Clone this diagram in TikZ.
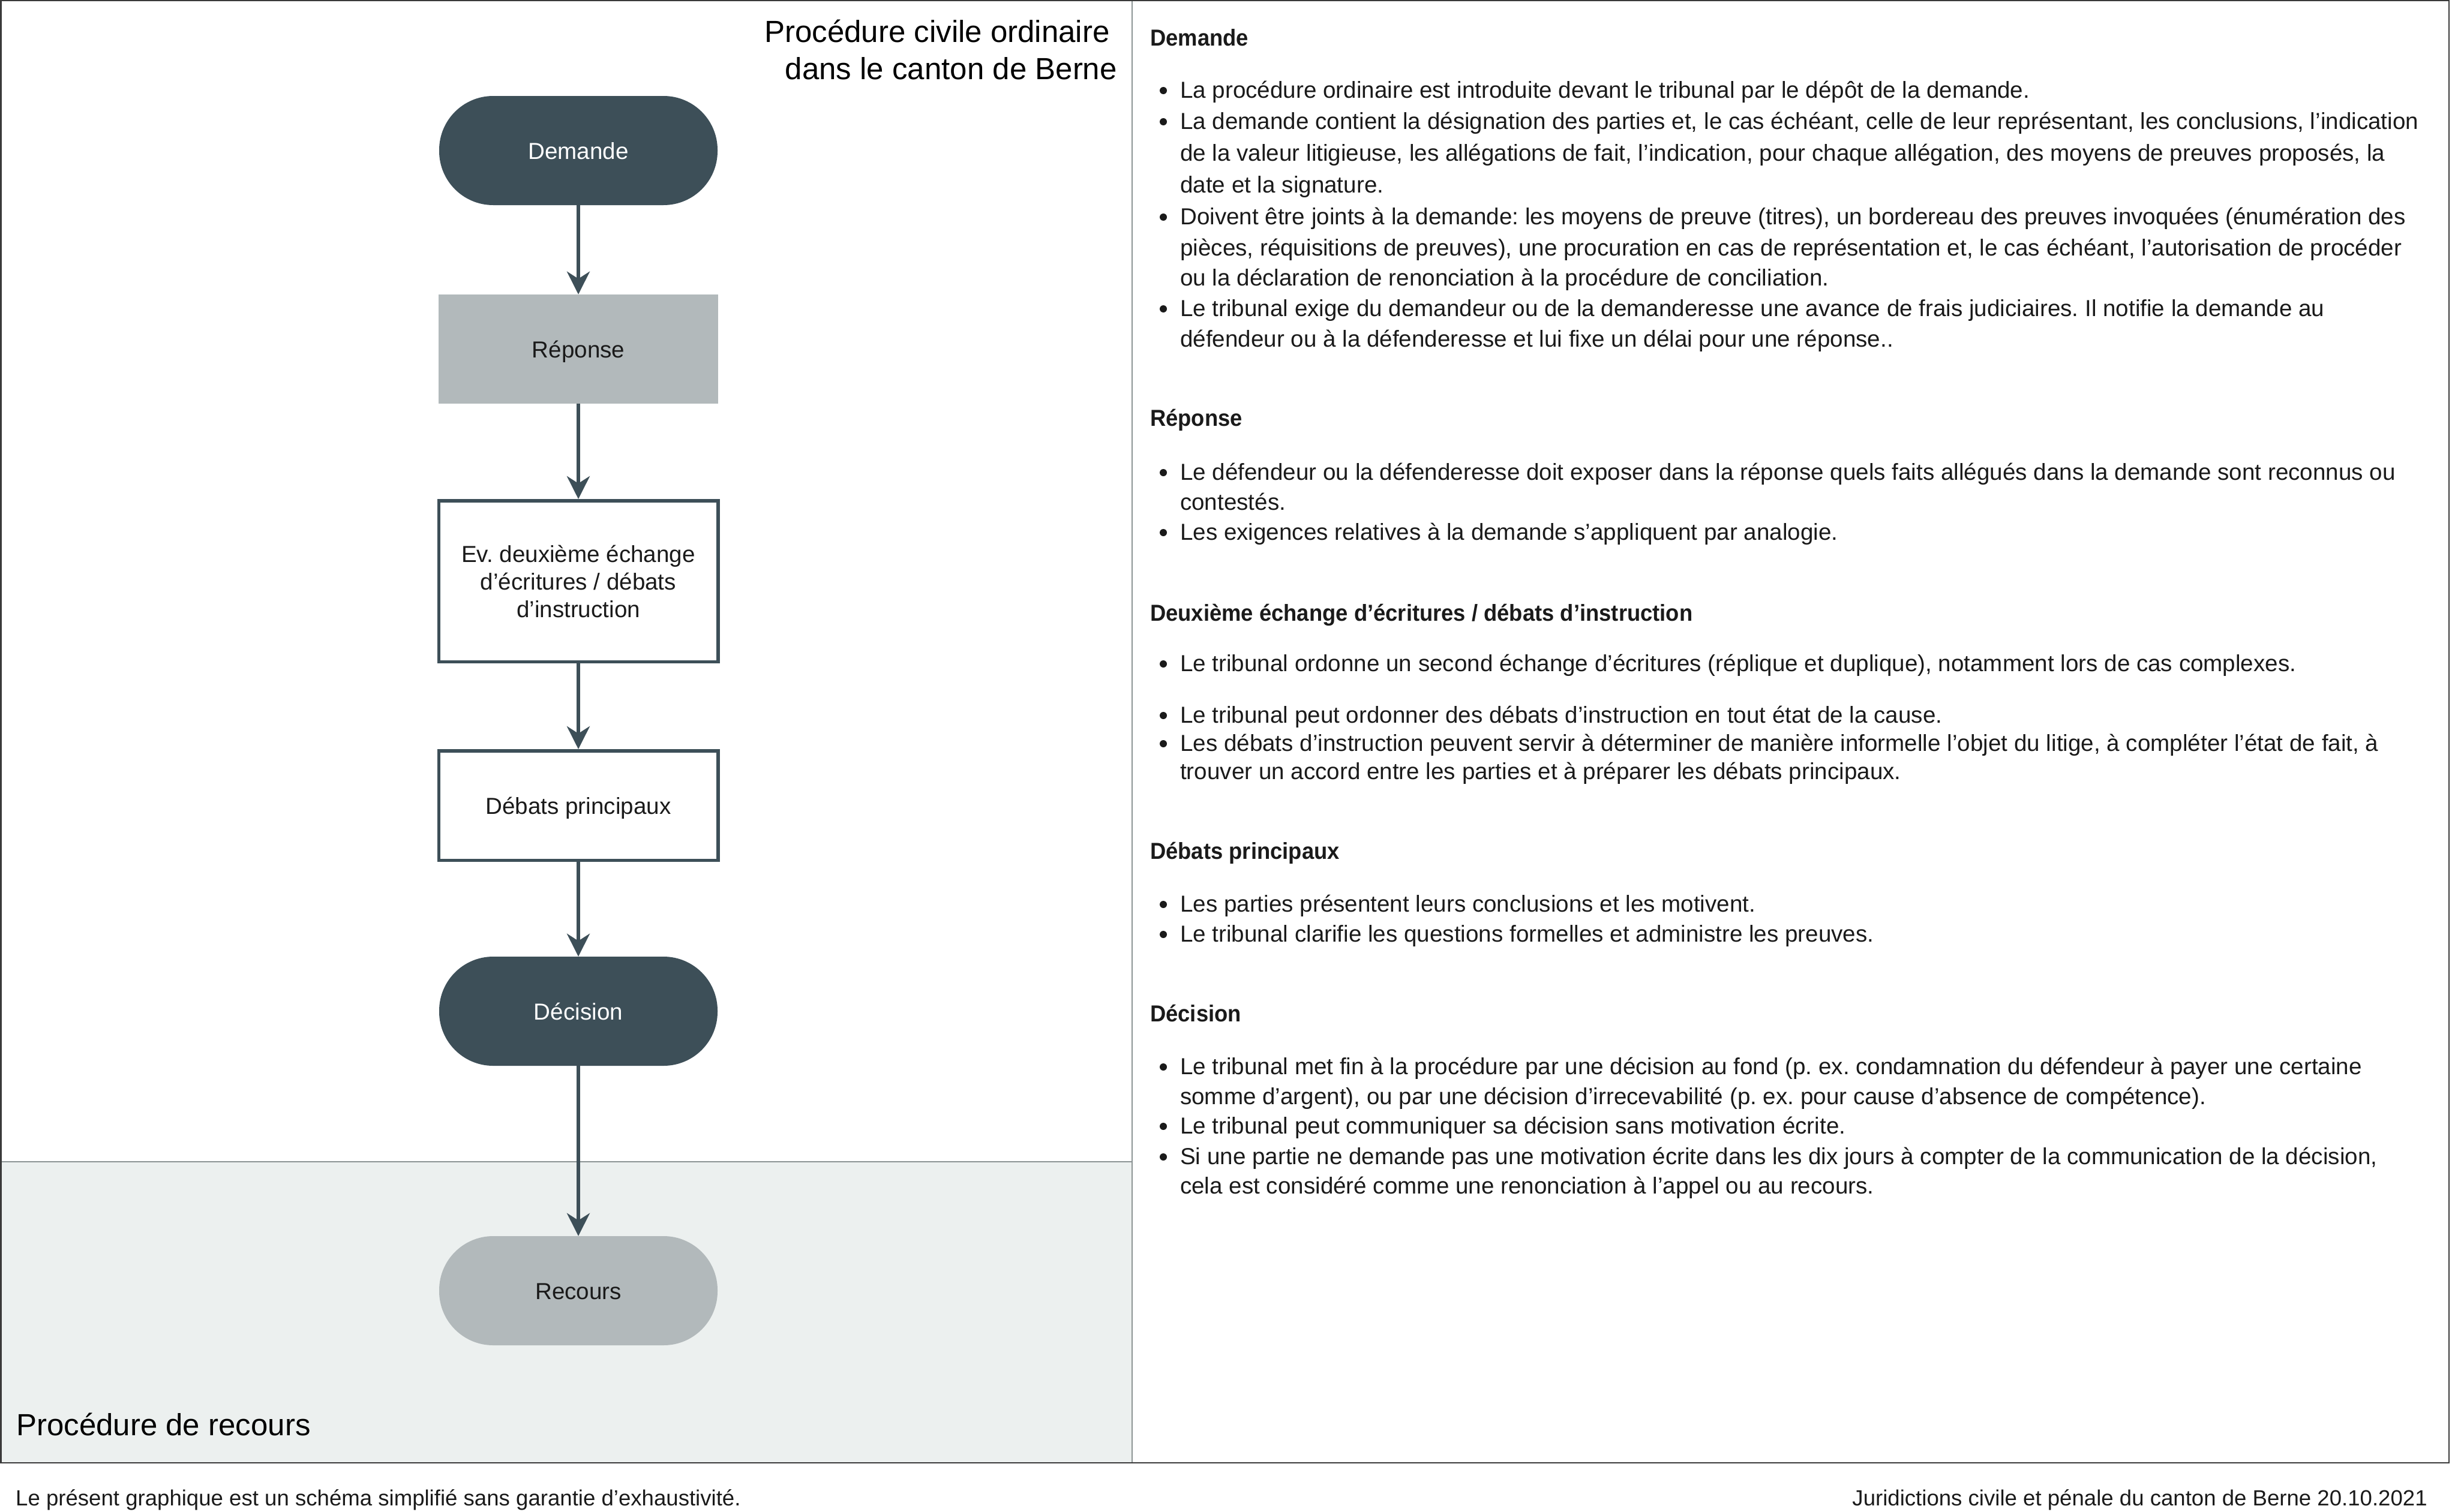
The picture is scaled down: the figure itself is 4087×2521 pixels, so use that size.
\documentclass[tikz,border=0pt]{standalone}
\usepackage{fontspec}
\setmainfont{Liberation Sans}
\newfontfamily\hdfont{Liberation Sans}[FakeStretch=0.943]
\usetikzlibrary{arrows.meta}
\definecolor{slate}{HTML}{3D4F58}
\definecolor{lgray}{HTML}{B2B9BB}
\definecolor{panel}{HTML}{ECF0EF}
\definecolor{framec}{HTML}{3A3A3A}
\definecolor{divc}{HTML}{8C9494}
\definecolor{txtc}{HTML}{1A1A1A}
\newcommand\bodyfs{\fontsize{38.6}{46}\selectfont}
\newcommand\titlefs{\fontsize{51}{61}\selectfont}
\newcommand\footfs{\fontsize{36.6}{43}\selectfont}
\frenchspacing
\begin{document}
\begin{tikzpicture}[x=1pt,y=-1pt,
 stad/.style={rectangle, rounded corners=90pt, minimum width=464pt, minimum height=182pt, inner sep=0pt, font=\bodyfs, text height=28pt, text depth=0pt},
 darkstad/.style={stad, fill=slate, text=white},
 graystad/.style={stad, fill=lgray, text=txtc},
 graybox/.style={rectangle, fill=lgray, minimum width=466pt, minimum height=182pt, inner sep=0pt, font=\bodyfs, text=txtc, text height=28pt, text depth=0pt},
 framebox/.style={rectangle, draw=slate, line width=5.5pt, fill=white, minimum width=465.5pt, inner sep=0pt, font=\bodyfs, text=txtc},
 arr/.style={draw=slate, line width=6pt, -{Stealth[length=38pt, width=38pt, inset=12pt]}},
 ln/.style={anchor=base west, inner sep=0pt, font=\bodyfs\frenchspacing, text=txtc},
 hd/.style={anchor=base west, inner sep=0pt, font=\bodyfs\hdfont\bfseries, text=txtc},
 bul/.style={circle, fill=txtc, inner sep=0pt, minimum size=12pt},
 ttl/.style={inner sep=0pt, font=\titlefs, text=black},
 foot/.style={inner sep=0pt, font=\footfs, text=txtc},
]
\useasboundingbox (0,0) rectangle (4087,2521);
\fill[white] (0,0) rectangle (4087,2521);
% panels
\fill[panel] (0,1937) rectangle (1887,2439);
\draw[divc, line width=2.5pt] (0,1937) -- (1887,1937);
\draw[divc, line width=2pt] (1887,0) -- (1887,2439);
\draw[framec, line width=2.5pt] (1.25,1.25) rectangle (4082,2439);

% titles
\node[ttl, anchor=base east] (title1) at (1850,71) {Procédure civile ordinaire};
\node[ttl, anchor=base east] (title2) at (1862,132) {dans le canton de Berne};
\node[ttl, anchor=base west] (recoursTitle) at (27,2393) {Procédure de recours};

% flow nodes
\node[darkstad] (dem) at (964,251) {Demande};
\node[graybox] (rep) at (964,582) {Réponse};
\node[framebox, minimum height=268.5pt, align=center] (ech) at (964,969) {Ev. deuxième échange\\d’écritures / débats\\d’instruction};
\node[framebox, minimum height=182.5pt, text height=28pt, text depth=0pt] (deb) at (964,1343) {Débats principaux};
\node[darkstad] (dec) at (964,1686) {Décision};
\node[graystad] (rec) at (964,2152) {Recours};

\draw[arr] (dem) -- (rep);
\draw[arr] (rep) -- (ech);
\draw[arr] (ech) -- (deb);
\draw[arr] (deb) -- (dec);
\draw[arr] (dec) -- (rec);

% right panel: Demande
\node[hd] (hA) at (1917,77) {Demande};
\node[bul] (bA1) at (1939,151) {};
\node[ln] (tA1) at (1967,163) {La procédure ordinaire est introduite devant le tribunal par le dépôt de la demande.};
\node[bul] (bA2) at (1939,203) {};
\node[ln] (tA2) at (1967,215) {La demande contient la désignation des parties et, le cas échéant, celle de leur représentant, les conclusions, l’indication};
\node[ln] (tA3) at (1967,268) {de la valeur litigieuse, les allégations de fait, l’indication, pour chaque allégation, des moyens de preuves proposés, la};
\node[ln] (tA4) at (1967,321) {date et la signature.};
\node[bul] (bA3) at (1939,362) {};
\node[ln] (tA5) at (1967,374) {Doivent être joints à la demande: les moyens de preuve (titres), un bordereau des preuves invoquées (énumération des};
\node[ln] (tA6) at (1967,426) {pièces, réquisitions de preuves), une procuration en cas de représentation et, le cas échéant, l’autorisation de procéder};
\node[ln] (tA7) at (1967,476) {ou la déclaration de renonciation à la procédure de conciliation.};
\node[bul] (bA4) at (1939,515) {};
\node[ln] (tA8) at (1967,527) {Le tribunal exige du demandeur ou de la demanderesse une avance de frais judiciaires. Il notifie la demande au};
\node[ln] (tA9) at (1967,578) {défendeur ou à la défenderesse et lui fixe un délai pour une réponse..};

% Réponse
\node[hd] (hB) at (1917,710) {Réponse};
\node[bul] (bB1) at (1939,788) {};
\node[ln] (tB1) at (1967,800) {Le défendeur ou la défenderesse doit exposer dans la réponse quels faits allégués dans la demande sont reconnus ou};
\node[ln] (tB2) at (1967,850) {contestés.};
\node[bul] (bB2) at (1939,888) {};
\node[ln] (tB3) at (1967,900) {Les exigences relatives à la demande s’appliquent par analogie.};

% Deuxième échange
\node[hd] (hC) at (1917,1035) {Deuxième échange d’écritures / débats d’instruction};
\node[bul] (bC1) at (1939,1107) {};
\node[ln] (tC1) at (1967,1119) {Le tribunal ordonne un second échange d’écritures (réplique et duplique), notamment lors de cas complexes.};
\node[bul] (bC2) at (1939,1193) {};
\node[ln] (tC2) at (1967,1205) {Le tribunal peut ordonner des débats d’instruction en tout état de la cause.};
\node[bul] (bC3) at (1939,1240) {};
\node[ln] (tC3) at (1967,1252) {Les débats d’instruction peuvent servir à déterminer de manière informelle l’objet du litige, à compléter l’état de fait, à};
\node[ln] (tC4) at (1967,1299) {trouver un accord entre les parties et à préparer les débats principaux.};

% Débats principaux
\node[hd] (hD) at (1917,1432) {Débats principaux};
\node[bul] (bD1) at (1939,1508) {};
\node[ln] (tD1) at (1967,1520) {Les parties présentent leurs conclusions et les motivent.};
\node[bul] (bD2) at (1939,1558) {};
\node[ln] (tD2) at (1967,1570) {Le tribunal clarifie les questions formelles et administre les preuves.};

% Décision
\node[hd] (hE) at (1917,1703) {Décision};
\node[bul] (bE1) at (1939,1779) {};
\node[ln] (tE1) at (1967,1791) {Le tribunal met fin à la procédure par une décision au fond (p. ex. condamnation du défendeur à payer une certaine};
\node[ln] (tE2) at (1967,1841) {somme d’argent), ou par une décision d’irrecevabilité (p. ex. pour cause d’absence de compétence).};
\node[bul] (bE2) at (1939,1878) {};
\node[ln] (tE3) at (1967,1890) {Le tribunal peut communiquer sa décision sans motivation écrite.};
\node[bul] (bE3) at (1939,1929) {};
\node[ln] (tE4) at (1967,1941) {Si une partie ne demande pas une motivation écrite dans les dix jours à compter de la communication de la décision,};
\node[ln] (tE5) at (1967,1990) {cela est considéré comme une renonciation à l’appel ou au recours.};

% footer
\node[foot, anchor=base west] (footL) at (26,2510) {Le présent graphique est un schéma simplifié sans garantie d’exhaustivité.};
\node[foot, anchor=base east] (footR) at (4046,2510) {Juridictions civile et pénale du canton de Berne 20.10.2021};
\end{tikzpicture}
\end{document}
